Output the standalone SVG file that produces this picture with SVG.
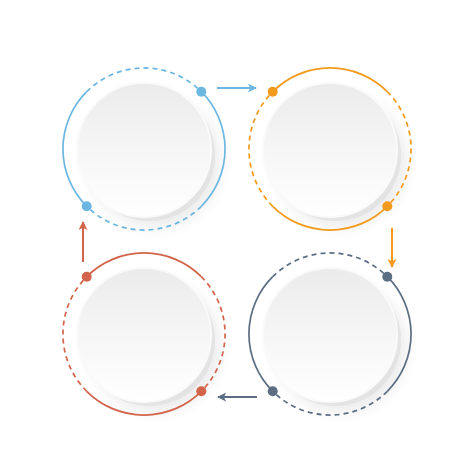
<svg xmlns="http://www.w3.org/2000/svg" width="474" height="474" viewBox="0 0 474 474">
  <defs>
    <linearGradient id="face" x1="0" y1="0" x2="0" y2="1">
      <stop offset="0" stop-color="#ebebeb"/>
      <stop offset="0.5" stop-color="#f6f6f6"/>
      <stop offset="1" stop-color="#ffffff"/>
    </linearGradient>
    <linearGradient id="side" x1="0" y1="0" x2="1" y2="1">
      <stop offset="0" stop-color="#f2f2f2"/>
      <stop offset="1" stop-color="#e0e0e0"/>
    </linearGradient>
    <filter id="blur" x="-30%" y="-30%" width="160%" height="160%">
      <feGaussianBlur stdDeviation="7"/>
    </filter>
    <marker id="ahBlue" viewBox="0 0 10 10" refX="9" refY="5" markerWidth="9" markerHeight="9" markerUnits="userSpaceOnUse" orient="auto">
      <path d="M0,0 L10,5 L0,10 L2.5,5 Z" fill="#6cb7e2"/>
    </marker>
    <marker id="ahOrange" viewBox="0 0 10 10" refX="9" refY="5" markerWidth="9" markerHeight="9" markerUnits="userSpaceOnUse" orient="auto">
      <path d="M0,0 L10,5 L0,10 L2.5,5 Z" fill="#f29a1e"/>
    </marker>
    <marker id="ahRed" viewBox="0 0 10 10" refX="9" refY="5" markerWidth="9" markerHeight="9" markerUnits="userSpaceOnUse" orient="auto">
      <path d="M0,0 L10,5 L0,10 L2.5,5 Z" fill="#d2644b"/>
    </marker>
    <marker id="ahGray" viewBox="0 0 10 10" refX="9" refY="5" markerWidth="9" markerHeight="9" markerUnits="userSpaceOnUse" orient="auto">
      <path d="M0,0 L10,5 L0,10 L2.5,5 Z" fill="#5b6e84"/>
    </marker>
  </defs>
  <style>
    .ring { fill: none; stroke-width: 1.7; }
    .dash { stroke-dasharray: 5 4; }
    .shadow { fill: #000; opacity: 0.07; filter: url(#blur); }
    .side { fill: url(#side); }
    .face { fill: url(#face); stroke: #fafafa; stroke-width: 2; }
    .blue { stroke: #6cb7e2; }
    .orange { stroke: #f29a1e; }
    .red { stroke: #d2644b; }
    .gray { stroke: #5b6e84; }
    .conn { fill: none; stroke-width: 2; }
  </style>
  <rect width="474" height="474" fill="#ffffff"/>

  <!-- Node 1: top-left, blue -->
  <g id="node-blue">
    <circle class="shadow" cx="155" cy="162" r="66"/>
    <circle class="side" cx="149" cy="155" r="66"/>
    <circle class="face" cx="144" cy="150" r="67"/>
    <path class="ring blue" d="M201.3,91.7 A81,81 0 0 1 201.3,206.3"/>
    <path class="ring blue" d="M86.7,206.3 A81,81 0 0 1 86.7,91.7"/>
    <path class="ring blue dash" d="M86.7,91.7 A81,81 0 0 1 201.3,91.7"/>
    <path class="ring blue dash" d="M201.3,206.3 A81,81 0 0 1 86.7,206.3"/>
    <circle cx="201.3" cy="91.7" r="5" fill="#6cb7e2"/>
    <circle cx="86.7" cy="206.3" r="5" fill="#6cb7e2"/>
  </g>

  <!-- Node 2: top-right, orange -->
  <g id="node-orange">
    <circle class="shadow" cx="341" cy="162" r="66"/>
    <circle class="side" cx="335" cy="155" r="66"/>
    <circle class="face" cx="330" cy="150" r="67"/>
    <path class="ring orange" d="M272.7,91.7 A81,81 0 0 1 387.3,91.7"/>
    <path class="ring orange" d="M387.3,206.3 A81,81 0 0 1 272.7,206.3"/>
    <path class="ring orange dash" d="M387.3,91.7 A81,81 0 0 1 387.3,206.3"/>
    <path class="ring orange dash" d="M272.7,206.3 A81,81 0 0 1 272.7,91.7"/>
    <circle cx="272.7" cy="91.7" r="5" fill="#f29a1e"/>
    <circle cx="387.3" cy="206.3" r="5" fill="#f29a1e"/>
  </g>

  <!-- Node 3: bottom-right, gray-blue -->
  <g id="node-gray">
    <circle class="shadow" cx="341" cy="347" r="66"/>
    <circle class="side" cx="335" cy="340" r="66"/>
    <circle class="face" cx="330" cy="335" r="67"/>
    <path class="ring gray" d="M387.3,276.7 A81,81 0 0 1 387.3,391.3"/>
    <path class="ring gray" d="M272.7,391.3 A81,81 0 0 1 272.7,276.7"/>
    <path class="ring gray dash" d="M272.7,276.7 A81,81 0 0 1 387.3,276.7"/>
    <path class="ring gray dash" d="M387.3,391.3 A81,81 0 0 1 272.7,391.3"/>
    <circle cx="387.3" cy="276.7" r="5" fill="#5b6e84"/>
    <circle cx="272.7" cy="391.3" r="5" fill="#5b6e84"/>
  </g>

  <!-- Node 4: bottom-left, red -->
  <g id="node-red">
    <circle class="shadow" cx="155" cy="347" r="66"/>
    <circle class="side" cx="149" cy="340" r="66"/>
    <circle class="face" cx="144" cy="335" r="67"/>
    <path class="ring red" d="M86.7,276.7 A81,81 0 0 1 201.3,276.7"/>
    <path class="ring red" d="M201.3,391.3 A81,81 0 0 1 86.7,391.3"/>
    <path class="ring red dash" d="M201.3,276.7 A81,81 0 0 1 201.3,391.3"/>
    <path class="ring red dash" d="M86.7,391.3 A81,81 0 0 1 86.7,276.7"/>
    <circle cx="86.7" cy="276.7" r="5" fill="#d2644b"/>
    <circle cx="201.3" cy="391.3" r="5" fill="#d2644b"/>
  </g>

  <!-- Connectors -->
  <g id="connectors">
    <line class="conn blue" x1="217" y1="88" x2="256" y2="88" marker-end="url(#ahBlue)"/>
    <line class="conn orange" x1="392" y1="228" x2="392" y2="267" marker-end="url(#ahOrange)"/>
    <line class="conn gray" x1="257" y1="397" x2="218" y2="397" marker-end="url(#ahGray)"/>
    <line class="conn red" x1="83" y1="262" x2="83" y2="222" marker-end="url(#ahRed)"/>
  </g>
</svg>
